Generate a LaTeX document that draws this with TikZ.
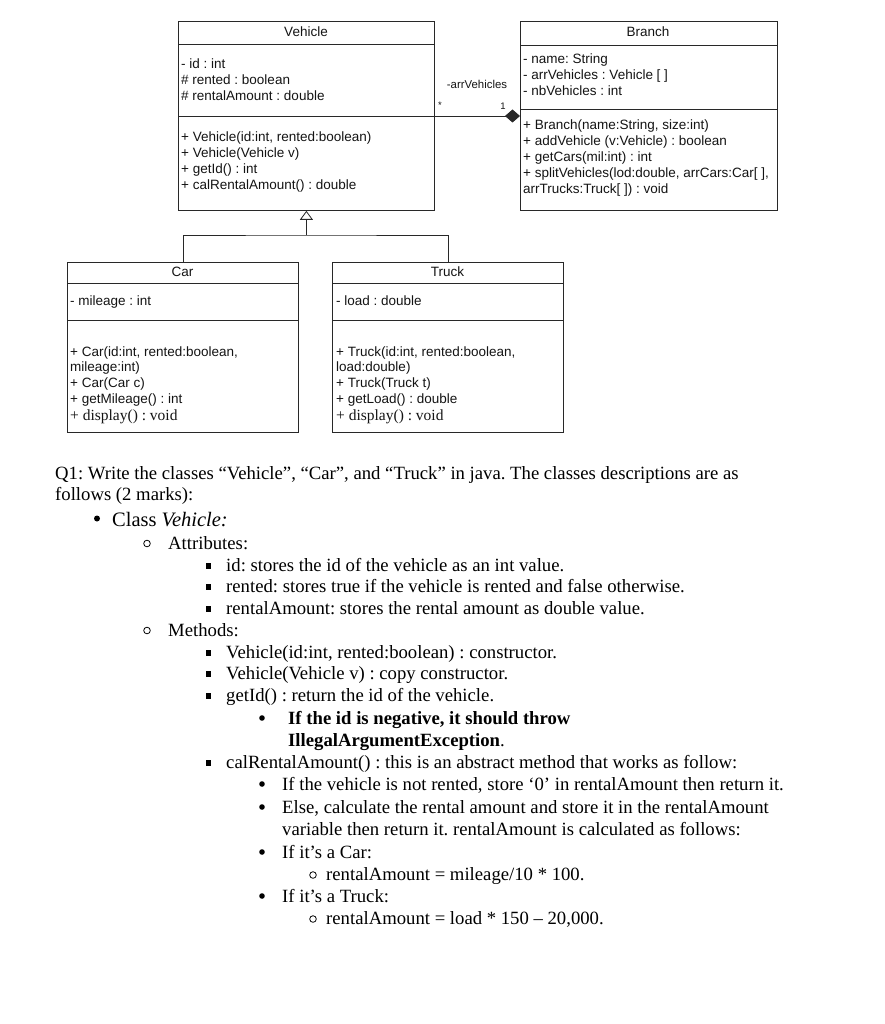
\documentclass[tikz,border=0pt]{standalone}
\usepackage{fontspec}
\setmainfont{Liberation Serif}
\newfontfamily\umlsans{Liberation Sans}
\usetikzlibrary{arrows.meta}
\definecolor{linec}{RGB}{40,40,40}
\definecolor{textc}{RGB}{20,20,20}
\frenchspacing
\begin{document}
\begin{tikzpicture}[x=1pt,y=-1pt,
  classbox/.style={draw=linec, line width=0.8pt, anchor=north west, inner sep=0pt},
  divider/.style={draw=linec, line width=0.8pt},
  conn/.style={draw=linec, line width=0.8pt},
  umltxt/.style={font=\umlsans\fontsize{13.5}{16}\selectfont, anchor=base west, inner sep=0pt, text=textc},
  umlserif/.style={font=\fontsize{15.5}{18}\selectfont, anchor=base west, inner sep=0pt, text=textc},
  umltitle/.style={font=\umlsans\fontsize{13.5}{16}\selectfont, anchor=base, inner sep=0pt, text=textc},
  smalllbl/.style={font=\umlsans\fontsize{11.4}{13}\selectfont, anchor=base, inner sep=0pt, text=textc},
  body/.style={font=\fontsize{18.7}{22}\selectfont, anchor=base west, inner sep=0pt, text=black},
  bodybig/.style={font=\fontsize{20.5}{24}\selectfont, anchor=base west, inner sep=0pt, text=black},
  sqbullet/.style={fill=black},
]
\useasboundingbox (0,0) rectangle (884,1024);
\fill[white] (0,0) rectangle (884,1024);

% ---------- Class boxes ----------
\node[classbox, minimum width=256pt, minimum height=189pt] (vehicle) at (178,21) {};
\node[classbox, minimum width=257pt, minimum height=189pt] (branch) at (520,21) {};
\node[classbox, minimum width=231pt, minimum height=170pt] (car) at (67,262) {};
\node[classbox, minimum width=231pt, minimum height=170pt] (truck) at (332,262) {};

% dividers
\draw[divider] (vehicle.west |- 0,44) -- (vehicle.east |- 0,44);
\draw[divider] (vehicle.west |- 0,116) -- (vehicle.east |- 0,116);
\draw[divider] (branch.west |- 0,45) -- (branch.east |- 0,45);
\draw[divider] (branch.west |- 0,109) -- (branch.east |- 0,109);
\draw[divider] (car.west |- 0,283) -- (car.east |- 0,283);
\draw[divider] (car.west |- 0,320) -- (car.east |- 0,320);
\draw[divider] (truck.west |- 0,283) -- (truck.east |- 0,283);
\draw[divider] (truck.west |- 0,320) -- (truck.east |- 0,320);

% ---------- Vehicle text ----------
\node[umltitle] (vt) at (306,37) {Vehicle};
\node[umltxt] (va1) at (181,69) {- id : int};
\node[umltxt] (va2) at (181,85) {\# rented : boolean};
\node[umltxt] (va3) at (181,101) {\# rentalAmount : double};
\node[umltxt] (vm1) at (181,142) {+ Vehicle(id:int, rented:boolean)};
\node[umltxt] (vm2) at (181,158) {+ Vehicle(Vehicle v)};
\node[umltxt] (vm3) at (181,174) {+ getId() : int};
\node[umltxt] (vm4) at (181,190) {+ calRentalAmount() : double};

% ---------- Branch text ----------
\node[umltitle] (bt) at (648,37) {Branch};
\node[umltxt] (ba1) at (523,64) {- name: String};
\node[umltxt] (ba2) at (523,80) {- arrVehicles : Vehicle [ ]};
\node[umltxt] (ba3) at (523,96) {- nbVehicles : int};
\node[umltxt] (bm1) at (523,130) {+ Branch(name:String, size:int)};
\node[umltxt] (bm2) at (523,146) {+ addVehicle (v:Vehicle) : boolean};
\node[umltxt] (bm3) at (523,162) {+ getCars(mil:int) : int};
\node[umltxt] (bm4) at (523,178) {+ splitVehicles(lod:double, arrCars:Car[ ],};
\node[umltxt] (bm5) at (523,194) {arrTrucks:Truck[ ]) : void};

% ---------- Car text ----------
\node[umltitle] (ct) at (182.5,276) {Car};
\node[umltxt] (ca1) at (70,305) {- mileage : int};
\node[umltxt] (cm1) at (70,356) {+ Car(id:int, rented:boolean,};
\node[umltxt] (cm2) at (70,371) {mileage:int)};
\node[umltxt] (cm3) at (70,387) {+ Car(Car c)};
\node[umltxt] (cm4) at (70,403) {+ getMileage() : int};
\node[umlserif] (cm5) at (70,420) {+ display() : void};

% ---------- Truck text ----------
\node[umltitle] (tt) at (447.5,276) {Truck};
\node[umltxt] (ta1) at (336,305) {- load : double};
\node[umltxt] (tm1) at (336,356) {+ Truck(id:int, rented:boolean,};
\node[umltxt] (tm2) at (336,371) {load:double)};
\node[umltxt] (tm3) at (336,387) {+ Truck(Truck t)};
\node[umltxt] (tm4) at (336,403) {+ getLoad() : double};
\node[umlserif] (tm5) at (336,420) {+ display() : void};

% ---------- Connectors ----------
\coordinate (junc) at (vehicle.south |- 0,235);
\draw[conn] (car.north) |- (junc) -| (truck.north);
\draw[conn, -{Triangle[open, width=13pt, length=9pt]}] (junc) -- (vehicle.south);
\draw[conn, -{Diamond[length=15pt, width=13pt]}] (vehicle.east |- 0,116) -- (branch.west |- 0,116);
\node[smalllbl] (lblarr) at (477,89) {-arrVehicles};
\node[smalllbl, font=\umlsans\fontsize{9.5}{11}\selectfont] (lblstar) at (440,109) {*};
\node[smalllbl, font=\umlsans\fontsize{9.5}{11}\selectfont] (lblone) at (503,110) {1};

% ---------- Question text ----------
\node[body] (q1) at (55,479) {Q1: Write the classes “Vehicle”, “Car”, and “Truck” in java. The classes descriptions are as};
\node[body] (q2) at (55,500) {follows (2 marks):};
\fill (97,518.5) circle (3pt);
\node[bodybig] (cls) at (112,526) {Class \textit{Vehicle:}};
\draw[line width=0.8pt] (147,543.5) circle (3.3pt);
\node[body] (attr) at (168,549) {Attributes:};
\fill[sqbullet] (206,563) rectangle +(5,6);
\node[body] (a1) at (226,571) {id: stores the id of the vehicle as an int value.};
\fill[sqbullet] (206,584) rectangle +(5,6);
\node[body] (a2) at (226,592) {rented: stores true if the vehicle is rented and false otherwise.};
\fill[sqbullet] (206,606) rectangle +(5,6);
\node[body] (a3) at (226,614) {rentalAmount: stores the rental amount as double value.};
\draw[line width=0.8pt] (147,630.5) circle (3.3pt);
\node[body] (meth) at (168,636) {Methods:};
\fill[sqbullet] (206,650) rectangle +(5,6);
\node[body] (m1) at (226,658) {Vehicle(id:int, rented:boolean) : constructor.};
\fill[sqbullet] (206,671) rectangle +(5,6);
\node[body] (m2) at (226,679) {Vehicle(Vehicle v) : copy constructor.};
\fill[sqbullet] (206,693) rectangle +(5,6);
\node[body] (m3) at (226,701) {getId() : return the id of the vehicle.};
\fill (262,718) circle (2.8pt);
\node[body] (m3a) at (288,724) {\textbf{If the id is negative, it should throw}};
\node[body] (m3b) at (288,746) {\textbf{IllegalArgumentException}.};
\fill[sqbullet] (206,760) rectangle +(5,6);
\node[body] (m4) at (226,768) {calRentalAmount() : this is an abstract method that works as follow:};
\fill (262,784) circle (2.8pt);
\node[body] (m4a) at (282,790) {If the vehicle is not rented, store ‘0’ in rentalAmount then return it.};
\fill (262,807) circle (2.8pt);
\node[body] (m4b) at (282,813) {Else, calculate the rental amount and store it in the rentalAmount};
\node[body] (m4c) at (282,835) {variable then return it. rentalAmount is calculated as follows:};
\fill (262,852) circle (2.8pt);
\node[body] (m4d) at (282,858) {If it’s a Car:};
\draw[line width=0.8pt] (313,875) circle (3.3pt);
\node[body] (m4e) at (326,880) {rentalAmount = mileage/10 * 100.};
\fill (262,896) circle (2.8pt);
\node[body] (m4f) at (282,902) {If it’s a Truck:};
\draw[line width=0.8pt] (313,919) circle (3.3pt);
\node[body] (m4g) at (326,924) {rentalAmount = load * 150 – 20,000.};
\end{tikzpicture}
\end{document}
